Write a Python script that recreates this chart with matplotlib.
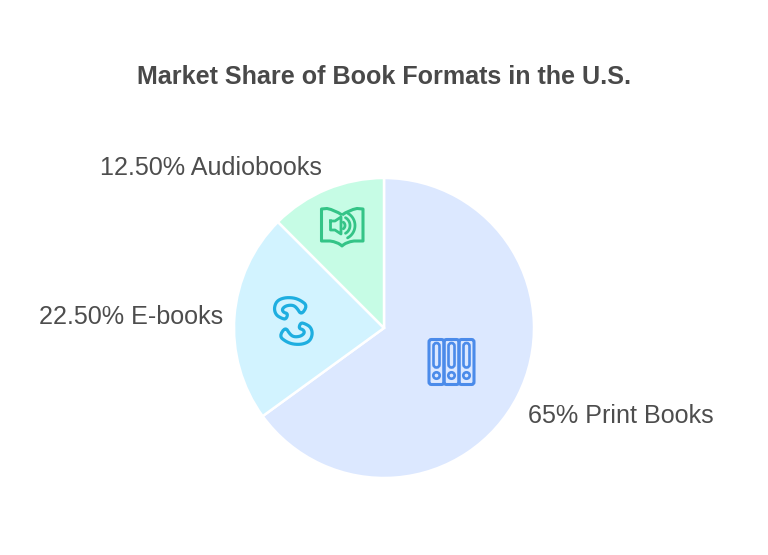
import matplotlib
matplotlib.use("Agg")
import matplotlib.pyplot as plt
from matplotlib.patches import FancyBboxPatch, Circle, PathPatch
from matplotlib.path import Path
import numpy as np

title = "Market Share of Book Formats in the U.S."
categories = ["Print Books", "E-books", "Audiobooks"]
values = [65, 22.5, 12.5]
value_labels = ["65%", "22.50%", "12.50%"]
colors = ["#dce8ff", "#d2f3ff", "#c6fce5"]
icon_colors = ["#4b8bea", "#1eaee0", "#34c487"]

W, H = 768, 555
plt.rcParams['font.family'] = ['Liberation Sans', 'DejaVu Sans']
fig = plt.figure(figsize=(W/100, H/100), dpi=100, facecolor="white")
ax = fig.add_axes([0, 0, 1, 1])

def Y(y):
    return H - y

def smooth(p, n=2):
    # corner-cutting for a closed outline drawn as an icon
    for _ in range(n):
        q = np.roll(p, -1, axis=0)
        p = np.vstack([np.column_stack([0.75*p[:, 0]+0.25*q[:, 0], 0.75*p[:, 1]+0.25*q[:, 1]]),
                       np.column_stack([0.25*p[:, 0]+0.75*q[:, 0], 0.25*p[:, 1]+0.75*q[:, 1]])])
        m = len(p)//2
        p = np.column_stack([p[:m], p[m:]]).reshape(-1, 2)
    return p

ax.pie(values, colors=colors, startangle=90, counterclock=False,
       center=(384, Y(328)), radius=150, frame=False,
       wedgeprops=dict(edgecolor="white", linewidth=1.8))
ax.set_xlim(0, W)
ax.set_ylim(0, H)
ax.set_aspect("equal")
ax.axis("off")

ax.text(384, Y(77), title, ha="center", va="center", fontsize=18.1,
        fontweight="bold", color="#494949")
tc = "#4d4d4d"
fs = 18.1
ax.text(527.5, Y(416), f"{value_labels[0]} {categories[0]}", ha="left", va="center", fontsize=fs, color=tc)
ax.text(223.5, Y(317), f"{value_labels[1]} {categories[1]}", ha="right", va="center", fontsize=fs, color=tc)
ax.text(322, Y(168), f"{value_labels[2]} {categories[2]}", ha="right", va="center", fontsize=fs, color=tc)

# Binder icon (Print Books)
c = icon_colors[0]
for x0 in (429, 444, 459):
    ax.add_patch(FancyBboxPatch((x0, Y(384.5)), 15, 45, boxstyle="round,pad=0,rounding_size=2.5",
                                fill=False, ec=c, lw=2.2))
    ax.add_patch(FancyBboxPatch((x0 + 4.5, Y(367.5)), 6, 24.5, boxstyle="round,pad=0,rounding_size=3",
                                fill=False, ec=c, lw=1.9))
    ax.add_patch(Circle((x0 + 7.5, Y(375.5)), 3.2, fill=False, ec=c, lw=1.9))

# Circular arrows icon (E-books)
c = icon_colors[1]
pts = np.array([(142, 62), (122, 46), (100, 38), (72, 38), (50, 48), (42, 70), (48, 90), (65, 100),
                (78, 103), (84, 86), (70, 82), (66, 72), (78, 62), (98, 60), (110, 68), (124, 90)], float)
for rot in (False, True):
    p = pts.copy()
    if rot:
        p = np.array([200, 216]) - p
    p = smooth(p, 2)
    px = 260 + p[:, 0] / 3
    py = Y(285 + p[:, 1] / 3)
    ax.fill(px, py, facecolor="none", edgecolor=c, lw=2.3, joinstyle="round")

# Audiobook icon
c = icon_colors[2]
book = Path(np.array([(342, Y(215)), (335, Y(210)), (327, Y(208.5)), (321.5, Y(209)), (321.5, Y(241)),
                      (330, Y(241)), (338, Y(242)), (342, Y(246)), (346, Y(242)), (354, Y(241)),
                      (363, Y(241)), (363, Y(209)), (357, Y(208.5)), (349, Y(210)), (342, Y(215))]),
            [Path.MOVETO, Path.CURVE3, Path.CURVE3, Path.LINETO, Path.LINETO,
             Path.LINETO, Path.CURVE3, Path.CURVE3, Path.CURVE3, Path.CURVE3,
             Path.LINETO, Path.LINETO, Path.LINETO, Path.CURVE3, Path.CURVE3])
ax.add_patch(PathPatch(book, fill=False, ec=c, lw=2.2, joinstyle="round"))
speaker = np.array([(330.5, 221), (335, 221), (341, 217), (341, 234), (335, 230), (330.5, 230), (330.5, 221)], float)
ax.plot(speaker[:, 0], H - speaker[:, 1], color=c, lw=2.0, solid_joinstyle="round")
for r, a in ((4, 55), (9, 60), (14, 62)):
    t = np.radians(np.linspace(-a, a, 30))
    ax.plot(341 + r * np.cos(t), Y(225.5) + r * np.sin(t), color=c, lw=2.0, solid_capstyle="round")

fig.savefig("out.png", dpi=100, facecolor="white")
